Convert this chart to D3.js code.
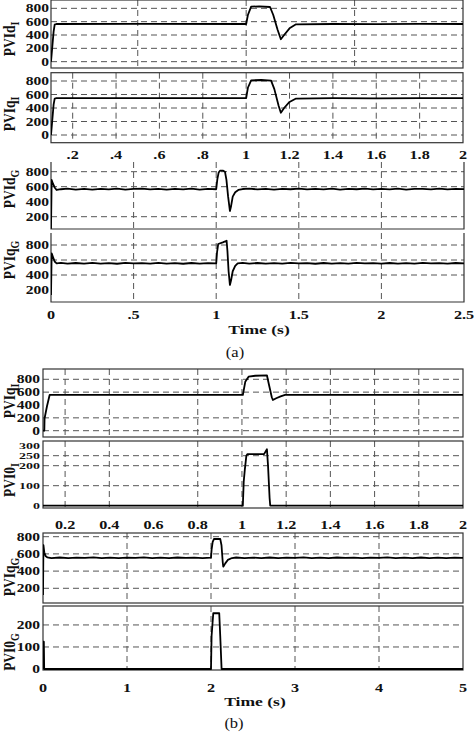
<!DOCTYPE html>
<html><head><meta charset="utf-8">
<script src="https://cdn.jsdelivr.net/npm/d3@7"></script>
<style>body{margin:0;background:#fff}svg{display:block}</style>
</head><body>
<svg id="c" width="474" height="733"></svg>
<script>
// ---------- DATA ----------
// (a) upper panels, time axis 0.1 .. 2 s
const pvIdI_a = [[0.1,0],[0.104,150],[0.112,450],[0.117,555],[0.125,565],[0.5,566],[1.0,565],[1.008,700],[1.023,825],[1.06,830],[1.11,820],[1.125,700],[1.145,480],[1.16,336],[1.175,400],[1.2,500],[1.23,560],[1.4,565],[1.6,562],[1.8,566],[2,565]];
const pvIqI_a = [[0.1,0],[0.104,150],[0.112,450],[0.117,540],[0.125,545],[0.5,546],[1.0,545],[1.008,700],[1.023,810],[1.07,815],[1.115,805],[1.13,680],[1.15,430],[1.16,330],[1.175,400],[1.2,490],[1.23,540],[1.4,545],[1.6,543],[1.8,546],[2,545]];
// (a) lower panels, time axis 0 .. 2.5 s
const pvIdG_a = [[0,40],[0.004,690],[0.012,640],[0.022,590],[0.034,556],[0.06,566],[0.1,574],[0.15,562],[0.2,571],[0.25,560],[0.3,572],[0.35,564],[0.4,575],[0.45,562],[0.5,570],[0.55,573],[0.6,563],[0.65,571],[0.7,561],[0.75,572],[0.8,565],[0.85,574],[0.9,562],[0.95,571],[1.0,566],[1.007,700],[1.015,790],[1.023,813],[1.04,815],[1.053,800],[1.062,690],[1.072,470],[1.083,276],[1.09,340],[1.1,467],[1.115,525],[1.134,556],[1.16,569],[1.2,573],[1.25,564],[1.3,571],[1.35,562],[1.4,572],[1.45,566],[1.5,574],[1.55,563],[1.6,571],[1.65,565],[1.7,573],[1.75,562],[1.8,571],[1.85,566],[1.9,574],[1.95,563],[2.0,571],[2.05,565],[2.1,573],[2.15,562],[2.2,570],[2.25,572],[2.3,564],[2.35,573],[2.4,565],[2.45,571],[2.5,567]];
const pvIqG_a = [[0,133],[0.004,689],[0.012,640],[0.022,580],[0.034,556],[0.06,561],[0.1,551],[0.15,560],[0.2,552],[0.25,562],[0.3,553],[0.35,559],[0.4,550],[0.45,561],[0.5,554],[0.55,559],[0.6,551],[0.65,561],[0.7,553],[0.75,558],[0.8,550],[0.85,560],[0.9,553],[0.95,559],[1.0,555],[1.005,700],[1.012,813],[1.04,835],[1.063,857],[1.068,720],[1.075,450],[1.083,267],[1.09,330],[1.1,450],[1.115,522],[1.13,556],[1.16,561],[1.2,552],[1.25,560],[1.3,553],[1.35,559],[1.4,551],[1.45,561],[1.5,554],[1.55,558],[1.6,550],[1.65,560],[1.7,553],[1.75,559],[1.8,552],[1.85,561],[1.9,554],[1.95,558],[2.0,551],[2.05,560],[2.1,553],[2.15,559],[2.2,552],[2.25,561],[2.3,554],[2.35,558],[2.4,551],[2.45,560],[2.5,555]];
// (b) upper panels, time axis 0.1 .. 2 s
const pvIqI_b = [[0.1,0],[0.106,0],[0.107,190],[0.118,380],[0.13,556],[0.5,556],[1.004,556],[1.015,760],[1.03,840],[1.06,855],[1.113,862],[1.12,750],[1.135,520],[1.14,478],[1.155,505],[1.175,535],[1.195,556],[1.5,556],[2,556]];
const pvI0I_b = [[0.1,0],[1.004,0],[1.008,120],[1.013,180],[1.02,250],[1.025,258],[1.1,258],[1.113,282],[1.118,200],[1.125,40],[1.128,0],[2,0]];
// (b) lower panels, time axis 0 .. 5 s
const pvIqG_b = [[0,122],[0.005,703],[0.015,620],[0.03,575],[0.05,560],[0.1,552],[0.2,558],[0.3,551],[0.4,557],[0.5,553],[0.6,559],[0.7,552],[0.8,556],[0.9,550],[1.0,557],[1.1,553],[1.2,559],[1.3,551],[1.4,556],[1.5,552],[1.6,558],[1.7,553],[1.8,557],[1.9,551],[2.0,556],[2.007,650],[2.02,740],[2.035,773],[2.11,775],[2.125,700],[2.14,500],[2.146,451],[2.17,490],[2.2,530],[2.25,552],[2.3,558],[2.4,551],[2.5,557],[2.6,552],[2.7,558],[2.8,551],[2.9,556],[3.0,553],[3.1,559],[3.2,552],[3.3,557],[3.4,551],[3.5,558],[3.6,553],[3.7,557],[3.8,550],[3.9,556],[4.0,553],[4.1,559],[4.2,552],[4.3,557],[4.4,551],[4.5,558],[4.6,552],[4.7,557],[4.8,550],[4.9,556],[5.0,554]];
const pvI0G_b = [[0,0],[0.003,124],[0.01,124],[0.014,0],[2.0,0],[2.007,150],[2.027,253],[2.098,253],[2.11,150],[2.126,0],[5,0]];

// tick labels
const xTicksA1 = [0.2,0.4,0.6,0.8,1,1.2,1.4,1.6,1.8,2];
const xLabelsA1 = [".2",".4",".6",".8","1","1.2","1.4","1.6","1.8","2"];
const xTicksA2 = [0,0.5,1,1.5,2,2.5];
const xLabelsA2 = ["0",".5","1","1.5","2","2.5"];
const xTicksB1 = [0.2,0.4,0.6,0.8,1,1.2,1.4,1.6,1.8,2];
const xLabelsB1 = ["0.2","0.4","0.6","0.8","1","1.2","1.4","1.6","1.8","2"];
const xTicksB2 = [0,1,2,3,4,5];
const xLabelsB2 = ["0","1","2","3","4","5"];
const yTicks800 = [0,200,400,600,800];
const yTicksG = [200,400,600,800];
const yTicksI0 = [0,100,200,250,300];
const yTicksI0G = [0,100,200];

// ---------- LAYOUT ----------
const svg = d3.select("#c");
const SERIF = "'Liberation Serif','Times New Roman',serif";
const SX = 1.35;

const panels = [
 {data:pvIdI_a, x0:51,x1:463,y0:0,y1:68, xd:[0.1,2], yd:[-95,925], gx:[0.5,1,1.5], gy:[0,200,400,600,800], yt:yTicks800, lab:"PVId",sub:"I", ly:39, box:"full", tx:49},
 {data:pvIqI_a, x0:51,x1:463,y0:72.7,y1:142.7, xd:[0.1,2], yd:[-114,923], gx:[0.2,0.4,0.6,0.8,1,1.2,1.4,1.6,1.8], gy:[0,200,400,600,800], yt:yTicks800, lab:"PVIq",sub:"I", ly:114, box:"full", tx:49,
   xt:xTicksA1, xl:xLabelsA1, xty:158.5},
 {data:pvIdG_a, x0:51,x1:464,y0:162,y1:229, xd:[0,2.5], yd:[36,929], gx:[0.5,1,1.5,2], gy:[200,600,800], yt:yTicksG, lab:"PVId",sub:"G", ly:189, box:"open", tx:49},
 {data:pvIqG_a, x0:51,x1:464,y0:233,y1:302, xd:[0,2.5], yd:[40,960], gx:[0.5,1,1.5,2], gy:[400,600,800], yt:yTicksG, lab:"PVIq",sub:"G", ly:260, box:"open", tx:49,
   xt:xTicksA2, xl:xLabelsA2, xty:318.5, title:"Time (s)", titleY:334, titleX:259, cap:"(a)", capY:357, capX:235},
 {data:pvIqI_b, x0:43,x1:463,y0:369,y1:437, xd:[0.1,2], yd:[-98,960], gx:[0.2,0.4,0.8,1,1.2,1.4,1.6,1.8], gy:[0,200,600,800], yt:yTicks800, lab:"PVIq",sub:"I", ly:401, box:"full", tx:40},
 {data:pvI0I_b, x0:43,x1:463,y0:441,y1:508, xd:[0.1,2], yd:[-11.5,323.5], gx:[0.2,0.4,0.8,1,1.2,1.4,1.6,1.8], gy:[100,200,250], yt:yTicksI0, tsize:9, lab:"PVI0",sub:"I", ly:480, box:"full", tx:40,
   xt:xTicksB1, xl:xLabelsB1, xty:528.5},
 {data:pvIqG_b, x0:43,x1:463,y0:533,y1:603, xd:[0,5], yd:[29,843], gx:[1,2,3,4], gy:[200,400,600,800], yt:yTicksG, lab:"PVIq",sub:"G", ly:577, box:"full", tx:40},
 {data:pvI0G_b, x0:43,x1:463,y0:606,y1:670, xd:[0,5], yd:[-4.5,286], gx:[1,2,3,4], gy:[100,200], yt:yTicksI0G, lab:"PVI0",sub:"G", ly:652, box:"full", tx:40,
   xt:xTicksB2, xl:xLabelsB2, xty:691.5, title:"Time (s)", titleY:706, titleX:255, cap:"(b)", capY:728, capX:234}
];

function stretchedText(x, y, str, opts) {
  const g = svg.append("g").attr("transform", `translate(${x},${y})`);
  const t = g.append("text")
    .attr("transform", `scale(${opts.sx||SX},1)`)
    .attr("text-anchor", opts.anchor||"middle")
    .attr("font-family", SERIF)
    .attr("font-weight", opts.weight||"bold")
    .attr("font-size", opts.size||12)
    .attr("fill", "#111")
    .attr("dy", opts.dy||0)
    .text(str);
  return t;
}

panels.forEach((p, i) => {
  const x = d3.scaleLinear().domain(p.xd).range([p.x0, p.x1]);
  const y = d3.scaleLinear().domain(p.yd).range([p.y1, p.y0]);
  const g = svg.append("g");
  const cid = "clip" + i;
  svg.append("clipPath").attr("id", cid).append("rect")
    .attr("x", p.x0).attr("y", p.y0).attr("width", p.x1 - p.x0).attr("height", p.y1 - p.y0);

  // grid
  g.selectAll(".gy").data(p.gy).join("line")
    .attr("x1", p.x0).attr("x2", p.x1).attr("y1", d => y(d)).attr("y2", d => y(d))
    .attr("stroke", "#555").attr("stroke-width", 1).attr("stroke-dasharray", "6,4");
  g.selectAll(".gx").data(p.gx).join("line")
    .attr("x1", d => x(d)).attr("x2", d => x(d)).attr("y1", p.y0).attr("y2", p.y1)
    .attr("stroke", "#555").attr("stroke-width", 1).attr("stroke-dasharray", "6,4");

  // frame
  if (p.box === "full") {
    g.append("rect").attr("x", p.x0).attr("y", p.y0).attr("width", p.x1 - p.x0).attr("height", p.y1 - p.y0)
      .attr("fill", "none").attr("stroke", "#333").attr("stroke-width", 1.2);
  } else {
    g.append("path").attr("d", `M${p.x0},${p.y0}V${p.y1}H${p.x1}V${p.y0}`)
      .attr("fill", "none").attr("stroke", "#333").attr("stroke-width", 1.2);
  }

  // data line
  const line = d3.line().x(d => x(d[0])).y(d => y(d[1]));
  g.append("path").datum(p.data).attr("d", line).attr("clip-path", `url(#${cid})`)
    .attr("fill", "none").attr("stroke", "#000").attr("stroke-width", 1.8).attr("stroke-linejoin", "round");

  // y tick labels
  p.yt.forEach(v => {
    stretchedText(p.tx, y(v), String(v), {anchor: "end", size: p.tsize || 11.5, dy: "0.35em", sx: p.tsize ? 1.55 : SX});
  });

  // x tick labels
  if (p.xt) {
    p.xt.forEach((v, k) => stretchedText(x(v), p.xty, p.xl[k], {size: 12}));
  }
  if (p.title) stretchedText(p.titleX, p.titleY, p.title, {size: 13});
  if (p.cap) stretchedText(p.capX, p.capY, p.cap, {size: 15, weight: "normal", sx: 1.1});

  // y label (rotated)
  const lg = svg.append("g").attr("transform", `translate(15,${p.ly})`);
  const lt = lg.append("text").attr("transform", `scale(1.25,1) rotate(-90)`)
    .attr("text-anchor", "middle").attr("font-family", SERIF).attr("font-weight", "bold")
    .attr("font-size", 13.5).attr("fill", "#111");
  lt.append("tspan").text(p.lab);
  lt.append("tspan").attr("font-size", 10).attr("dy", 3).text(p.sub);
});
</script>
</body></html>
